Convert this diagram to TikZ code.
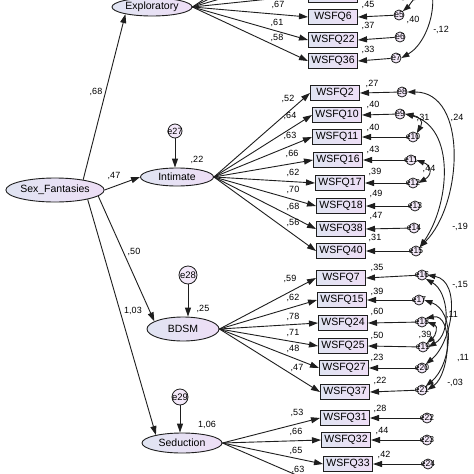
\documentclass[tikz,border=0pt]{standalone}
\usepackage{fontspec}
\setmainfont{Liberation Sans}
\usetikzlibrary{arrows.meta,shapes.geometric}
\definecolor{amoslav}{RGB}{238,222,246}
\definecolor{amosgrey}{RGB}{224,228,242}
\definecolor{amosline}{RGB}{30,30,30}
\begin{document}
\begin{tikzpicture}[x=1pt, y=-1pt,
  every node/.style={font=\fontsize{9}{10}\selectfont},
  item/.style={draw=amosline, line width=1pt, left color=amosgrey, right color=amoslav,
    minimum width=49pt, minimum height=15pt, inner sep=0pt, font=\fontsize{10.5}{11}\selectfont},
  latent/.style={ellipse, draw=amosline, line width=0.9pt, left color=amosgrey, right color=amoslav,
    inner sep=0pt, font=\fontsize{10.5}{12}\selectfont},
  err/.style={circle, draw=amosline, line width=0.8pt, fill=amoslav!70, minimum size=10pt, inner sep=0pt},
  elbl/.style={font=\fontsize{8.5}{8.5}\selectfont},
  load/.style={-{Triangle[length=9pt,width=6pt]}, line width=0.9pt, amosline},
  cov/.style={{Triangle[length=8pt,width=5.5pt]}-{Triangle[length=8pt,width=5.5pt]}, line width=0.9pt, amosline},
  coef/.style={font=\fontsize{9}{10}\selectfont, inner sep=0pt}]
  \useasboundingbox (0,0) rectangle (474,474);
  \fill[white] (0,0) rectangle (474,474);
  \clip (0,0) rectangle (474,474);

  % Latent variables
  \node[latent, minimum width=93pt, minimum height=24pt] (sexf) at (55,190) {Sex\_Fantasies};
  \node[latent, minimum width=80pt, minimum height=18pt] (expl) at (152,7) {Exploratory};
  \node[latent, minimum width=73pt, minimum height=18pt] (inti) at (177,177) {Intimate};
  \node[latent, minimum width=72pt, minimum height=24pt] (bdsm) at (183,329) {BDSM};
  \node[latent, minimum width=80pt, minimum height=20pt] (sedu) at (182,443) {Seduction};

  % Disturbances
  \node[err, minimum size=14pt, label={[font=\fontsize{9}{9}\selectfont]center:e27}] (e27) at (175,131) {};
  \node[err, minimum size=18pt, label={[font=\fontsize{9.5}{9.5}\selectfont]center:e28}] (e28) at (188,275) {};
  \node[err, minimum size=16pt, label={[font=\fontsize{9.5}{9.5}\selectfont]center:e29}] (e29) at (180,397) {};
  \draw[load] (e27) -- (e27 |- inti.north);
  \draw[load] (e28) -- (e28 |- bdsm.north);
  \draw[load] (e29) -- (e29 |- sedu.north);

  % Structural paths
  \draw[load] (sexf.20) -- (expl.195);
  \draw[load] (sexf.east) -- (inti.west);
  \draw[load] (sexf.-8) -- (bdsm.165);
  \draw[load] (sexf.-16) -- (sedu.163);
  \node[coef] (p68) at (96,92) {,68};
  \node[coef] (p47) at (114,176) {,47};
  \node[coef] (p50) at (134,252) {,50};
  \node[coef] (p103) at (133,311) {1,03};
  \node[coef] (r22) at (197,160) {,22};
  \node[coef] (r25) at (203,309) {,25};
  \node[coef] (r106) at (207,425) {1,06};

  % Exploratory items
  \node[item] (x1) at (333,-71) {};
  \node[item] (x2) at (333,-49) {};
  \node[item] (x3) at (333,-27) {};
  \node[item] (x4) at (333,-5) {};
  \node[item] (q6) at (333,17) {WSFQ6};
  \node[item] (q22) at (333,40) {WSFQ22};
  \node[item] (q36) at (333,61) {WSFQ36};
  \node[err] (e1) at (403,-71) {};
  \node[err] (e2) at (403,-49) {};
  \node[err] (e3) at (403,-27) {};
  \node[err] (e4) at (403,-5) {};
  \node[err, label={[elbl]center:e5}] (e5) at (399,15) {};
  \node[err, label={[elbl]center:e6}] (e6) at (400,37) {};
  \node[err, label={[elbl]center:e7}] (e7) at (396,58) {};
  \foreach \q/\e in {x1/e1, x2/e2, x3/e3, x4/e4, q6/e5, q22/e6, q36/e7} {
    \draw[load] (expl.east) -- (\q.west);
    \draw[load] (\e) -- (\q.east);
  }
  \node[coef] (l67) at (278,5) {,67};
  \node[coef] (l61) at (277,23) {,61};
  \node[coef] (l58) at (277,38) {,58};
  \node[coef] (s45) at (368,5) {,45};
  \node[coef] (s37) at (368,26) {,37};
  \node[coef] (s33) at (368,50) {,33};
  \draw[cov] (e4.east) to[out=-20, in=40] (e5.north east);
  \draw[cov] (e3.east) to[out=-10, in=30, looseness=1.1] (e7.east);
  \node[coef] (c40) at (413,20) {,40};
  \node[coef] (c12) at (441,30) {-,12};

  % Intimate items
  \node[item] (q2) at (335,93) {WSFQ2};
  \node[item] (q10) at (337,115) {WSFQ10};
  \node[item] (q11) at (337,137) {WSFQ11};
  \node[item] (q16) at (338,160) {WSFQ16};
  \node[item] (q17) at (340,183) {WSFQ17};
  \node[item] (q18) at (341,206) {WSFQ18};
  \node[item] (q38) at (341,229) {WSFQ38};
  \node[item] (q40) at (341,251) {WSFQ40};
  \node[err, label={[elbl]center:e8}] (e8) at (402,92) {};
  \node[err, label={[elbl]center:e9}] (e9) at (400,114) {};
  \node[err, label={[elbl]center:e10}] (e10) at (413,137) {};
  \node[err, label={[elbl]center:e11}] (e11) at (411,160) {};
  \node[err, label={[elbl]center:e12}] (e12) at (413,183) {};
  \node[err, label={[elbl]center:e13}] (e13) at (415,206) {};
  \node[err, label={[elbl]center:e14}] (e14) at (414,228) {};
  \node[err, label={[elbl]center:e15}] (e15) at (416,251) {};
  \foreach \q/\e in {q2/e8, q10/e9, q11/e10, q16/e11, q17/e12, q18/e13, q38/e14, q40/e15} {
    \draw[load] (inti.east) -- (\q.west);
    \draw[load] (\e) -- (\q.east);
  }
  \node[coef] (l52) at (288,99) {,52};
  \node[coef] (l64) at (290,116) {,64};
  \node[coef] (l63) at (290,136) {,63};
  \node[coef] (l66) at (292,154) {,66};
  \node[coef] (l62) at (293,173) {,62};
  \node[coef] (l70) at (293,190) {,70};
  \node[coef] (l68) at (293,207) {,68};
  \node[coef] (l56) at (293,223) {,56};
  \node[coef] (s27) at (372,84) {,27};
  \node[coef] (s40a) at (373,105) {,40};
  \node[coef] (s40b) at (373,128) {,40};
  \node[coef] (s43) at (373,150) {,43};
  \node[coef] (s39) at (375,172) {,39};
  \node[coef] (s49) at (376,194) {,49};
  \node[coef] (s47) at (376,216) {,47};
  \node[coef] (s31) at (375,238) {,31};
  \draw[cov] (e9.east) to[out=-10, in=60, looseness=1.6] (e10.north east);
  \draw[cov] (e11.east) to[out=-20, in=30, looseness=1.8] (e12.east);
  \draw[cov] (e8.east) to[out=0, in=45] (e15.north east);
  \draw[cov] (e9.east) to[out=-15, in=55] (e15.north east);
  \node[coef] (c31) at (423,118) {,31};
  \node[coef] (c44) at (429,169) {,44};
  \node[coef] (c24) at (457,118) {,24};
  \node[coef] (c19) at (460,227) {-,19};

  % BDSM items
  \node[item] (q7) at (341,278) {WSFQ7};
  \node[item] (q15) at (342,300) {WSFQ15};
  \node[item] (q24) at (343,323) {WSFQ24};
  \node[item] (q25) at (343,346) {WSFQ25};
  \node[item] (q27) at (344,368) {WSFQ27};
  \node[item] (q37) at (345,392) {WSFQ37};
  \node[err, label={[elbl]center:e16}] (e16) at (422,275) {};
  \node[err, label={[elbl]center:e17}] (e17) at (419,300) {};
  \node[err, label={[elbl]center:e18}] (e18) at (422,322) {};
  \node[err, label={[elbl]center:e19}] (e19) at (423,347) {};
  \node[err, label={[elbl]center:e20}] (e20) at (422,368) {};
  \node[err, label={[elbl]center:e21}] (e21) at (422,390) {};
  \foreach \q/\e in {q7/e16, q15/e17, q24/e18, q25/e19, q27/e20, q37/e21} {
    \draw[load] (bdsm.east) -- (\q.west);
    \draw[load] (\e) -- (\q.east);
  }
  \node[coef] (l59) at (290,279) {,59};
  \node[coef] (l62b) at (293,298) {,62};
  \node[coef] (l78) at (293,317) {,78};
  \node[coef] (l71) at (293,333) {,71};
  \node[coef] (l48) at (293,349) {,48};
  \node[coef] (l47) at (297,368) {,47};
  \node[coef] (s35) at (377,268) {,35};
  \node[coef] (s39b) at (377,292) {,39};
  \node[coef] (s60) at (377,312) {,60};
  \node[coef] (s50) at (377,336) {,50};
  \node[coef] (s23) at (377,358) {,23};
  \node[coef] (s22) at (380,381) {,22};
  \draw[cov] (e16.east) to[out=-10, in=40] (e20.north east);
  \draw[cov] (e17.east) to[out=-20, in=40] (e21.north east);
  \draw[cov] (e18.east) to[out=-20, in=40, looseness=1.4] (e19.north east);
  \draw[cov] (e16.south east) to[out=-30, in=30] (e19.east);
  \draw[cov] (e18.north east) to[out=10, in=35] (e21.east);
  \node[coef] (c15) at (460,285) {-,15};
  \node[coef] (c11a) at (452,315) {,11};
  \node[coef] (c39) at (425,335) {,39};
  \node[coef] (c11b) at (463,358) {,11};
  \node[coef] (c03) at (455,383) {-,03};

  % Seduction items
  \node[item] (q31) at (345,418) {WSFQ31};
  \node[item] (q32) at (346,440) {WSFQ32};
  \node[item] (q33) at (348,464) {WSFQ33};
  \node[item] (x5) at (349,487) {};
  \node[err, label={[elbl]center:e22}] (e22) at (427,418) {};
  \node[err, label={[elbl]center:e23}] (e23) at (427,440) {};
  \node[err, label={[elbl]center:e24}] (e24) at (428,464) {};
  \node[err] (e25) at (429,487) {};
  \foreach \q/\e in {q31/e22, q32/e23, q33/e24, x5/e25} {
    \draw[load] (sedu.east) -- (\q.west);
    \draw[load] (\e) -- (\q.east);
  }
  \node[coef] (l53) at (297,413) {,53};
  \node[coef] (l66b) at (296,432) {,66};
  \node[coef] (l65) at (296,451) {,65};
  \node[coef] (l63b) at (298,470) {,63};
  \node[coef] (s28) at (380,409) {,28};
  \node[coef] (s44) at (382,431) {,44};
  \node[coef] (s42) at (384,455) {,42};
\end{tikzpicture}
\end{document}
